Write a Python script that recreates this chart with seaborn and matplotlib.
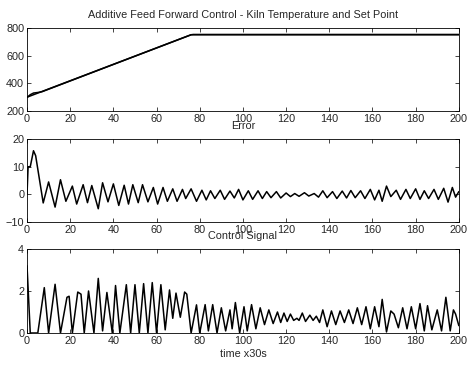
import matplotlib
matplotlib.use("Agg")
import matplotlib.pyplot as plt
import seaborn as sns
import pandas as pd

# Kiln temperature / set point (turning points)
sp_t = [0, 76, 200]
sp_val = [300, 752, 752]
temp_t = [0, 1.5, 3, 5, 7, 9, 76, 77, 200]
temp_val = [298, 318, 330, 334, 340, 352, 752, 754, 754]

# Error signal (peaks and troughs)
err_t = [0, 0.5, 1.5, 3, 4, 7.5, 10, 13, 15.5, 18, 21, 23, 26, 28, 30, 33, 35,
         37.5, 40, 42.5, 45, 47, 49, 51.5, 53.5, 56, 58.5, 60.5, 63, 65, 67.5,
         69.5, 72, 73.5, 76, 78.5, 81, 83, 85, 87, 89.5, 91.5, 94, 96, 98, 100,
         102.5, 104.5, 107, 109, 111, 113, 115.5, 117.5, 120, 122, 124, 126,
         128.5, 130.5, 133, 135, 137, 139, 141.5, 143.5, 146, 148, 150, 152,
         154.5, 156.5, 159, 161, 163, 164.5, 166.5, 168.5, 171, 173, 175.5,
         177.5, 180, 182, 184, 186, 188.5, 190.5, 193, 195, 197, 198.5, 200]
err_val = [0, 10, 10, 15.8, 14, -3.1, 4.5, -4.6, 5.3, -2.5, 3.0, -3.5, 3.5, -3,
           3.2, -5.2, 4.2, -2.7, 3.8, -4, 3.3, -3.5, 3.5, -3, 3.5, -2.7, 2.5,
           -3.5, 2.5, -2.5, 2.0, -2.5, 1.8, -1.5, 2.0, -2.5, 1.5, -2.0, 1.3,
           -1.5, 1.5, -1.8, 1.2, -1.3, 1.8, -2.0, 1.3, -1.8, 1.3, -1.5, 1.0,
           -1.2, 1.0, -1.3, 0.5, -0.8, 0.3, -0.7, 0.6, -0.6, 0.3, -1.0, 1.3,
           -1.2, 1.0, -1.5, 1.2, -1.3, 1.4, -1.2, 1.3, -1.5, 1.8, -2.0, 1.5,
           -2.5, 3.0, -0.8, 1.5, -1.8, 1.8, -1.5, 2.0, -1.8, 1.3, -1.5, 1.8,
           -1.8, 2.2, -2.8, 2.5, -1.0, 1.0]

# Control signal (peaks and troughs)
ctl_t = [0, 1.5, 5, 8, 10, 13, 15.5, 18.5, 19.5, 21, 23.5, 25, 26.5, 28.5, 31,
         33, 35, 37, 39.5, 41, 43, 46, 48, 50, 52, 54, 56, 58, 60, 62, 64, 66,
         67.5, 69, 71, 73, 74, 76, 78.5, 80, 82.5, 84, 86, 88, 90, 92, 94, 95,
         96.5, 98.5, 100.5, 102, 104, 106, 108, 110, 112, 114, 116, 117.5, 119,
         120.5, 122, 123.5, 125, 126, 127.5, 129, 131, 132.5, 134, 135.5, 137,
         139, 141, 143, 145, 147, 149, 151, 153, 155, 157, 159, 161, 163, 164.5,
         166.5, 168.5, 170, 172, 174, 176, 178, 180, 182, 184, 185.5, 187.5, 190,
         192, 194, 196, 197.5, 198.5, 200]
ctl_val = [3.2, 0, 0, 2.16, 0, 2.32, 0, 1.7, 1.75, 0, 1.95, 1.85, 0, 2.0, 0,
           2.6, 0.1, 1.93, 0, 2.26, 0, 2.3, 0, 2.3, 0, 2.35, 0, 2.4, 0, 2.3,
           0.15, 2.05, 0.7, 1.9, 0.75, 1.95, 1.85, 0, 1.34, 0, 1.35, 0.1, 1.35,
           0, 1.2, 0.1, 1.1, 0.2, 1.45, 0, 1.25, 0.1, 1.35, 0.2, 1.2, 0.4, 1.1,
           0.45, 1.0, 0.5, 0.95, 0.55, 0.9, 0.6, 0.7, 0.6, 0.95, 0.55, 0.85,
           0.6, 0.8, 0.5, 1.1, 0.3, 1.05, 0.4, 1.05, 0.5, 1.1, 0.45, 1.2, 0.4,
           1.25, 0.2, 1.25, 0.3, 1.6, 0.05, 1.05, 0.9, 0.25, 1.2, 0.2, 1.25,
           0.2, 1.4, 0.1, 1.3, 0.15, 1.1, 0.1, 1.7, 0.1, 1.1, 0.9, 0.35]

x_ticks = list(range(0, 201, 20))

sns.set_style("ticks")
plt.rcParams["font.family"] = ["Liberation Sans", "DejaVu Sans"]
fs = 7.8

fig = plt.figure(figsize=(4.74, 3.75), dpi=100)
ax1 = fig.add_axes([0.057, 0.704, 0.911, 0.221])
ax2 = fig.add_axes([0.057, 0.408, 0.911, 0.221])
ax3 = fig.add_axes([0.057, 0.112, 0.911, 0.224])

sp = pd.DataFrame({"t": sp_t, "v": sp_val})
tmp = pd.DataFrame({"t": temp_t, "v": temp_val})
err = pd.DataFrame({"t": err_t, "v": err_val})
ctl = pd.DataFrame({"t": ctl_t, "v": ctl_val})

lw = 1.1
sns.lineplot(data=sp, x="t", y="v", ax=ax1, color="k", linewidth=lw, estimator=None, sort=False)
sns.lineplot(data=tmp, x="t", y="v", ax=ax1, color="k", linewidth=lw, estimator=None, sort=False)
sns.lineplot(data=err, x="t", y="v", ax=ax2, color="k", linewidth=lw, estimator=None, sort=False)
sns.lineplot(data=ctl, x="t", y="v", ax=ax3, color="k", linewidth=lw, estimator=None, sort=False)

ax1.set_ylim(200, 800)
ax1.set_yticks([200, 400, 600, 800])
ax2.set_ylim(-10, 20)
ax2.set_yticks([-10, 0, 10, 20])
ax3.set_ylim(0, 4)
ax3.set_yticks([0, 2, 4])

ax1.set_title("Additive Feed Forward Control - Kiln Temperature and Set Point", fontsize=fs, pad=7)
ax2.set_title("Error", fontsize=fs, pad=7)
ax3.set_title("Control Signal", fontsize=fs, pad=7)

for ax in (ax1, ax2, ax3):
    ax.set_xlim(0, 200)
    ax.set_xticks(x_ticks)
    ax.set_xlabel("")
    ax.set_ylabel("")
    ax.tick_params(direction="in", top=True, right=True, length=3, width=0.6,
                   labelsize=fs, pad=2)
    for s in ax.spines.values():
        s.set_linewidth(0.6)
        s.set_color("k")

ax3.set_xlabel("time x30s", fontsize=fs, labelpad=2)

fig.savefig("out.png", dpi=100)
